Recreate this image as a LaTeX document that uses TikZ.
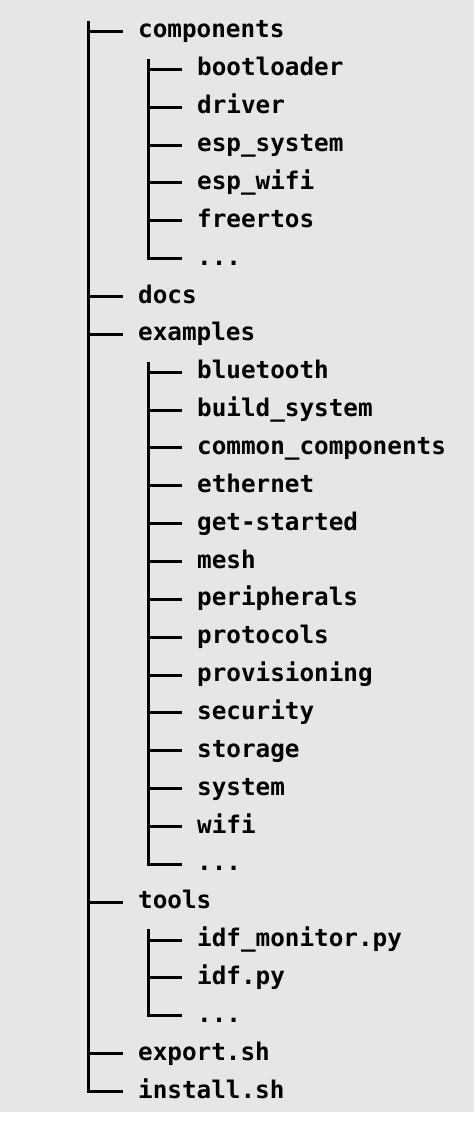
\documentclass[tikz,border=0pt]{standalone}
\usepackage{fontspec}
\setmonofont{DejaVu Sans Mono}
\definecolor{panelgray}{HTML}{E6E6E6}
\tikzset{
    % Define style for directory entries
    entry/.style={
           anchor=base west,
           inner sep=0pt,
           font=\ttfamily\bfseries\fontsize{24.3}{24.3}\selectfont},
    % Define style for tree lines
    branch/.style={
           line width=3pt,
           shorten >=15pt}
}
% name, x, row, text; also a hook point left of the entry
\newcommand*{\dnode}[4]{\node[entry] (#1) at (#2,{38+37.857*#3}) {#4};
    \coordinate (#1-h) at ([yshift=6.5pt]#1.base west);}

\begin{document}
\begin{tikzpicture}[x=1pt,y=-1pt]
\useasboundingbox (0,0) rectangle (474,1124);
\fill[panelgray] (0,0) rectangle (474,1112);

% Top level entries
\dnode{comp}{138}{0}{components}
\dnode{docs}{138}{7}{docs}
\dnode{exam}{138}{8}{examples}
\dnode{tools}{138}{23}{tools}
\dnode{export}{138}{27}{export.sh}
\dnode{install}{138}{28}{install.sh}

% Entries below components
\dnode{boot}{197}{1}{bootloader}
\dnode{driver}{197}{2}{driver}
\dnode{espsys}{197}{3}{esp\_system}
\dnode{espwifi}{197}{4}{esp\_wifi}
\dnode{rtos}{197}{5}{freertos}
\dnode{compmore}{197}{6}{...}

% Entries below examples
\dnode{bt}{197}{9}{bluetooth}
\dnode{build}{197}{10}{build\_system}
\dnode{common}{197}{11}{common\_components}
\dnode{eth}{197}{12}{ethernet}
\dnode{getst}{197}{13}{get-started}
\dnode{mesh}{197}{14}{mesh}
\dnode{periph}{197}{15}{peripherals}
\dnode{proto}{197}{16}{protocols}
\dnode{prov}{197}{17}{provisioning}
\dnode{secu}{197}{18}{security}
\dnode{stor}{197}{19}{storage}
\dnode{sys}{197}{20}{system}
\dnode{wifi}{197}{21}{wifi}
\dnode{exammore}{197}{22}{...}

% Entries below tools
\dnode{mon}{197}{24}{idf\_monitor.py}
\dnode{idf}{197}{25}{idf.py}
\dnode{toolmore}{197}{26}{...}

% Trunk tops
\coordinate (rootT) at (88,21);
\coordinate (compT) at (148,59);
\coordinate (examT) at (148,362);
\coordinate (toolT) at (148,929);

% Now connect the entries to their trunks
\foreach \n in {comp,docs,exam,tools,export}
    \draw[branch] (rootT |- \n-h) -- (\n-h);
\draw[branch] (rootT) |- (install-h);

\foreach \n in {boot,driver,espsys,espwifi,rtos}
    \draw[branch] (compT |- \n-h) -- (\n-h);
\draw[branch] (compT) |- (compmore-h);

\foreach \n in {bt,build,common,eth,getst,mesh,periph,proto,prov,secu,stor,sys,wifi}
    \draw[branch] (examT |- \n-h) -- (\n-h);
\draw[branch] (examT) |- (exammore-h);

\foreach \n in {mon,idf}
    \draw[branch] (toolT |- \n-h) -- (\n-h);
\draw[branch] (toolT) |- (toolmore-h);
\end{tikzpicture}
\end{document}
